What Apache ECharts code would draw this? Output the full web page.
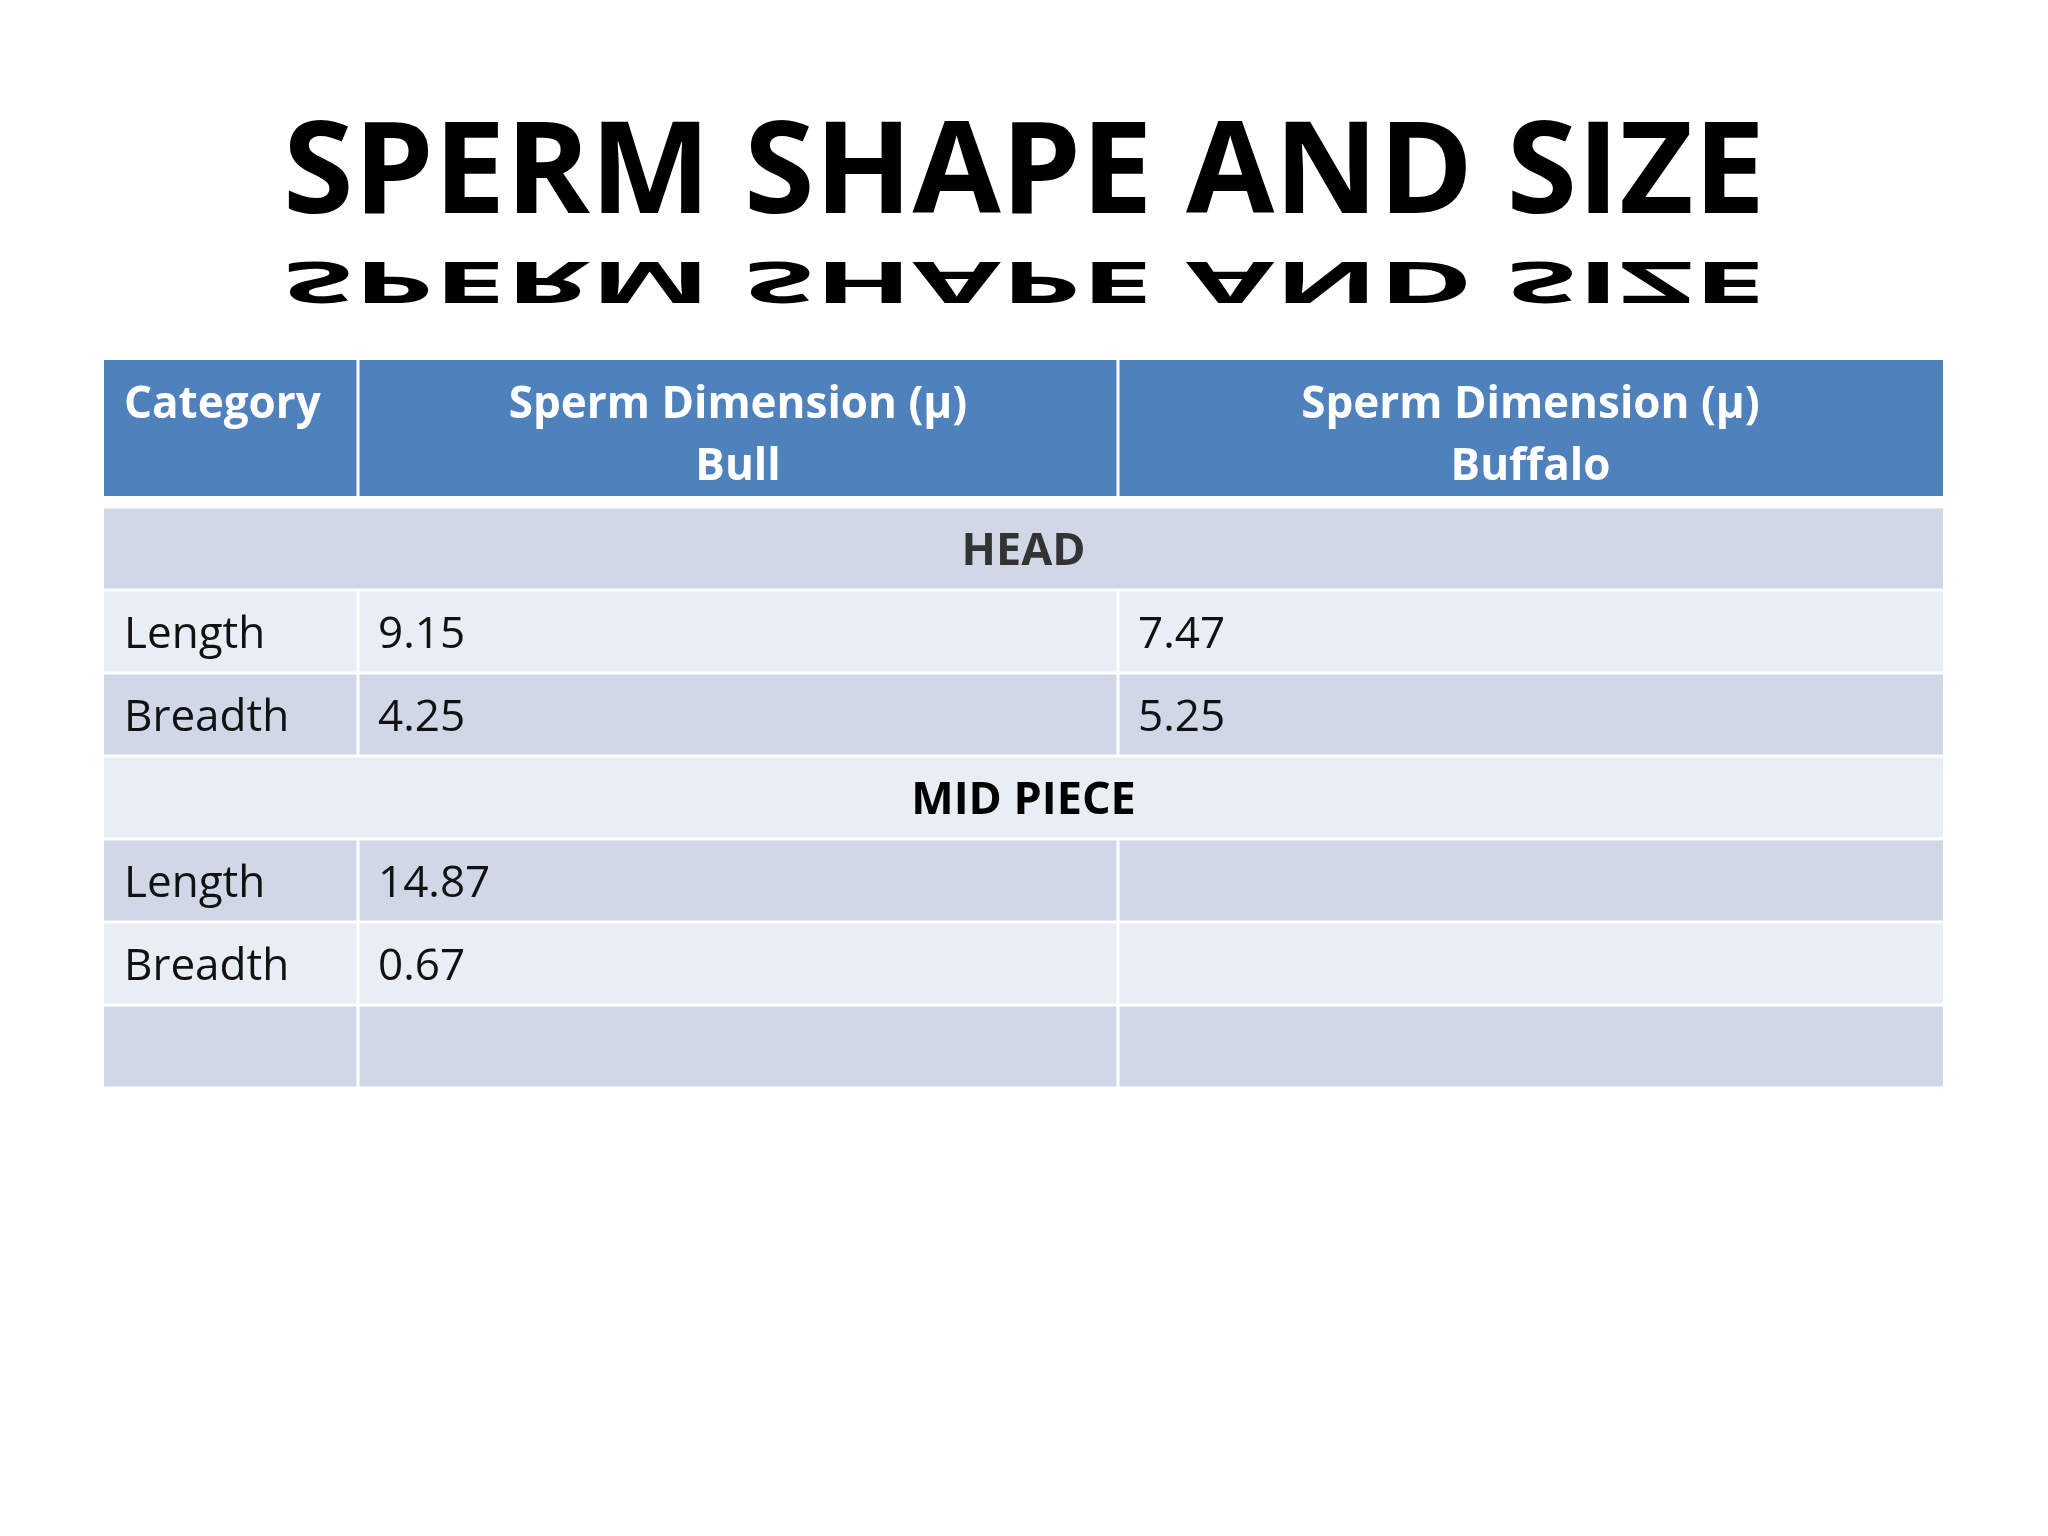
<!DOCTYPE html><html><head><meta charset="utf-8">
<script src="https://cdn.jsdelivr.net/npm/echarts@6/dist/echarts.min.js"></script>
<style>html,body{margin:0;background:#fff}#c{width:2048px;height:1536px}</style></head><body><div id="c"></div>
<script>
const title = 'SPERM SHAPE AND SIZE';
const headers = ['Category', 'Sperm Dimension (µ)\nBull', 'Sperm Dimension (µ)\nBuffalo'];
const sections = ['HEAD', 'MID PIECE'];
const categories = ['Length', 'Breadth', 'Length', 'Breadth', ''];
const bull = ['9.15', '4.25', '14.87', '0.67', ''];
const buffalo = ['7.47', '5.25', '', '', ''];
const rows = [
  ['section', sections[0]],
  ['data', categories[0], bull[0], buffalo[0]],
  ['data', categories[1], bull[1], buffalo[1]],
  ['section', sections[1]],
  ['data', categories[2], bull[2], buffalo[2]],
  ['data', categories[3], bull[3], buffalo[3]],
  ['data', categories[4], bull[4], buffalo[4]]
];
const colEdges = [0, 254, 1014, 1839];
const headH = 136, rowH = 83, gap = 11;
const totalH = headH + gap + rowH * rows.length;
const fills = ['#D0D8E8', '#E9EDF4'];
const font = '"Open Sans", "Liberation Sans", sans-serif';
const chart = echarts.init(document.getElementById('c'));
const items = [];
items.push({value:[0, 0], kind:'header'});
rows.forEach((r,i)=>items.push({value:[0, headH+gap+i*rowH], kind:r[0], row:r, idx:i}));
chart.setOption({
  animation:false,
  graphic:[
    {type:'text',left:'center',top:250,scaleY:-0.45,style:{text:title,font:'bold 128px '+font,
      fill:new echarts.graphic.LinearGradient(0,0,0,1,[{offset:0,color:'rgba(120,60,190,0)'},{offset:0.5,color:'rgba(120,60,190,0.05)'},{offset:1,color:'rgba(120,60,190,0.3)'}])}},
    {type:'text',left:'center',top:113,style:{text:title,font:'bold 128px '+font,
      fill:new echarts.graphic.LinearGradient(0,0,0,1,[{offset:0,color:'#A060E0'},{offset:0.55,color:'#7A38C8'},{offset:1,color:'#4A1890'}]),
      shadowColor:'rgba(60,0,100,0.35)',shadowBlur:6,shadowOffsetY:4}}
  ],
  grid:{left:104,top:360,width:1839,height:totalH},
  xAxis:{type:'value',min:0,max:1839,show:false},
  yAxis:{type:'value',min:0,max:totalH,inverse:true,show:false},
  series:[{type:'custom',data:items,renderItem(params,api){
    const it = items[params.dataIndex];
    const y0 = api.value(1);
    const P = (x,y)=>api.coord([x,y]);
    const ch = [];
    if (it.kind==='header'){
      const a=P(0,0), b=P(1839,headH);
      ch.push({type:'rect',shape:{x:a[0],y:a[1],width:b[0]-a[0],height:b[1]-a[1]},style:{fill:'#4F81BD'}});
      for(let c=0;c<3;c++){
        const l=P(colEdges[c],0), r=P(colEdges[c+1],headH);
        if(c>0) ch.push({type:'rect',shape:{x:l[0]-1.5,y:l[1],width:3,height:r[1]-l[1]},style:{fill:'#fff'}});
        ch.push({type:'text',style:{text:headers[c],x:c===0?l[0]+20:(l[0]+r[0])/2,y:l[1]+14,align:c===0?'left':'center',verticalAlign:'top',
          fill:'#fff',font:'bold 44px '+font,lineHeight:62}});
      }
      const la=P(0,headH), lb=P(1839,headH+gap);
      ch.push({type:'rect',shape:{x:la[0],y:la[1],width:lb[0]-la[0],height:lb[1]-la[1]},style:{fill:'#fff'}});
    } else {
      const a=P(0,y0), b=P(1839,y0+rowH);
      ch.push({type:'rect',shape:{x:a[0],y:a[1]+1.5,width:b[0]-a[0],height:b[1]-a[1]-3},style:{fill:fills[it.idx%2]}});
      const cy=(a[1]+b[1])/2+4;
      if(it.kind==='section'){
        ch.push({type:'text',style:{text:it.row[1],x:(a[0]+b[0])/2,y:cy,align:'center',verticalAlign:'middle',
          fill:it.idx===0?'#333':'#000',font:'bold 45px '+font}});
      } else {
        for(let c=0;c<3;c++){
          const l=P(colEdges[c],y0);
          if(c>0) ch.push({type:'rect',shape:{x:l[0]-1.5,y:a[1],width:3,height:b[1]-a[1]},style:{fill:'#fff'}});
          ch.push({type:'text',style:{text:it.row[c+1],x:l[0]+20,y:cy,align:'left',verticalAlign:'middle',fill:'#111',font:'44px '+font}});
        }
      }
    }
    return {type:'group',children:ch};
  }}]
});
</script></body></html>
